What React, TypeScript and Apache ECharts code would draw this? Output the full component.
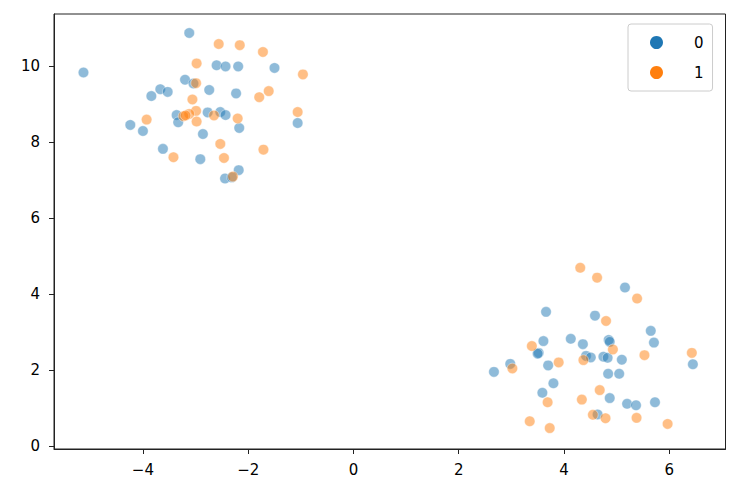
import React, { useEffect, useRef } from "react";
import * as echarts from "echarts";

const seriesNames = ["0", "1"];
const colors = ["#1f77b4", "#ff7f0e"];

const class0Points: [number, number][] = [
  [-5.13, 9.83], [-3.12, 10.87], [-2.6, 10.02], [-2.43, 9.99], [-2.19, 9.99], [-1.5, 9.95],
  [-3.2, 9.64], [-3.04, 9.54], [-3.67, 9.39], [-3.53, 9.32], [-3.84, 9.21], [-2.74, 9.37],
  [-2.23, 9.28], [-3.36, 8.71], [-3.33, 8.52], [-2.77, 8.78], [-2.53, 8.79], [-2.43, 8.71],
  [-2.17, 8.37], [-1.06, 8.5], [-4.24, 8.45], [-4.0, 8.29], [-2.86, 8.21], [-3.62, 7.82],
  [-2.91, 7.55], [-2.18, 7.26], [-2.44, 7.04], [-2.31, 7.07],
  [5.16, 4.17], [3.66, 3.53], [4.59, 3.43], [5.65, 3.03], [5.71, 2.72], [3.61, 2.76],
  [4.13, 2.82], [4.36, 2.68], [4.85, 2.79], [4.87, 2.74], [3.52, 2.45], [3.5, 2.43],
  [2.98, 2.16], [2.67, 1.95], [3.7, 2.12], [4.42, 2.37], [4.51, 2.33], [4.75, 2.35],
  [4.83, 2.32], [5.1, 2.27], [4.84, 1.9], [5.05, 1.9], [6.45, 2.15], [3.8, 1.65],
  [3.59, 1.4], [4.87, 1.26], [5.2, 1.11], [5.37, 1.07], [5.73, 1.15], [4.64, 0.83],
];

const class1Points: [number, number][] = [
  [-2.56, 10.58], [-2.16, 10.55], [-1.72, 10.37], [-2.98, 10.07], [-0.96, 9.78], [-2.99, 9.55],
  [-1.61, 9.34], [-1.79, 9.18], [-3.06, 9.12], [-2.99, 8.82], [-3.12, 8.74], [-3.23, 8.68],
  [-3.19, 8.7], [-2.98, 8.54], [-2.65, 8.7], [-2.2, 8.62], [-1.06, 8.79], [-3.93, 8.59],
  [-2.53, 7.95], [-1.71, 7.8], [-3.42, 7.6], [-2.46, 7.58], [-2.29, 7.09],
  [4.31, 4.69], [4.63, 4.43], [5.39, 3.88], [4.8, 3.29], [3.39, 2.63], [4.93, 2.54],
  [5.53, 2.39], [6.43, 2.45], [3.9, 2.2], [4.37, 2.26], [3.02, 2.04], [4.68, 1.47],
  [3.69, 1.15], [4.34, 1.22], [4.55, 0.82], [4.79, 0.73], [5.38, 0.74], [5.97, 0.58],
  [3.35, 0.65], [3.73, 0.47],
];

const xTicks = [-4, -2, 0, 2, 4, 6];
const yTicks = [0, 2, 4, 6, 8, 10];
const xRange = [-5.69, 7.07];
const yRange = [-0.08, 11.37];

const FONT = "DejaVu Sans";
const INK = "#222222";

const fmt = (v: number) => String(v).replace("-", "\u2212");

export default function App() {
  const ref = useRef<HTMLDivElement>(null);
  useEffect(() => {
    document.body.style.margin = "0";
    if (!ref.current) return;
    const chart = echarts.init(ref.current, null, { renderer: "svg" });
    const allSeries = [class0Points, class1Points].map((pts, i) => ({
      name: seriesNames[i],
      type: "scatter",
      data: pts,
      symbol: "circle",
      symbolSize: 10.5,
      itemStyle: { color: colors[i], opacity: 0.5, borderColor: "#ffffff", borderWidth: 0.8 },
      emphasis: { disabled: true },
    }));
    chart.setOption({
      animation: false,
      grid: {
        left: 54, top: 14, right: 11.5, bottom: 47,
        show: true, borderColor: INK, borderWidth: 1, backgroundColor: "#fff",
      },
      xAxis: {
        type: "value",
        min: xRange[0],
        max: xRange[1],
        splitLine: { show: false },
        axisLine: { show: true, onZero: false, lineStyle: { color: INK, width: 1 } },
        axisTick: { show: true, length: 5, lineStyle: { color: INK }, customValues: xTicks },
        axisLabel: {
          customValues: xTicks, formatter: fmt, color: "#000", fontFamily: FONT, fontSize: 15, margin: 13,
        },
      },
      yAxis: {
        type: "value",
        min: yRange[0],
        max: yRange[1],
        splitLine: { show: false },
        axisLine: { show: true, onZero: false, lineStyle: { color: INK, width: 1 } },
        axisTick: { show: true, length: 5, lineStyle: { color: INK }, customValues: yTicks },
        axisLabel: {
          customValues: yTicks, formatter: fmt, color: "#000", fontFamily: FONT, fontSize: 15, margin: 14,
        },
      },
      legend: {
        show: true,
        orient: "vertical",
        left: 628,
        top: 24,
        icon: "circle",
        itemWidth: 13,
        itemHeight: 13,
        itemGap: 15,
        padding: [11, 9, 11, 22],
        backgroundColor: "#ffffff",
        borderColor: "#cccccc",
        borderWidth: 1,
        borderRadius: 3,
        itemStyle: { opacity: 1, borderWidth: 0 },
        selectedMode: false,
        textStyle: { fontFamily: FONT, fontSize: 15, lineHeight: 13, color: "#000", padding: [0, 0, 0, 26] },
        data: seriesNames.map((n, i) => ({ name: n, itemStyle: { color: colors[i], opacity: 1, borderWidth: 0 } })),
      },
      series: allSeries,
    });
    return () => chart.dispose();
  }, []);
  return <div ref={ref} style={{ width: 737, height: 496 }} />;
}
